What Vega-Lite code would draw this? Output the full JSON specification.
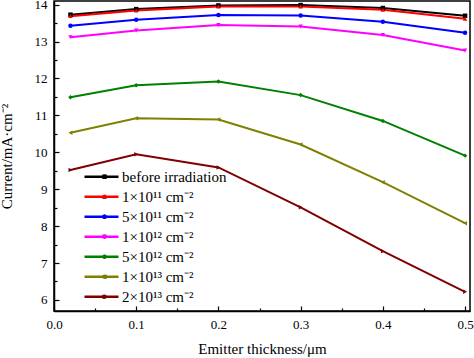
{
  "$schema": "https://vega.github.io/schema/vega-lite/v6.json",
  "width": 416,
  "height": 310,
  "autosize": "none",
  "padding": {"left": 54, "top": 1, "right": 4, "bottom": 47},
  "background": "white",
  "config": {
    "font": "Liberation Serif",
    "view": {"stroke": "black", "strokeWidth": 1.5},
    "axis": {"grid": false, "domainColor": "black", "domainWidth": 1.5, "tickColor": "black", "tickWidth": 1.2, "labelColor": "black", "titleColor": "black", "labelFont": "Liberation Serif", "titleFont": "Liberation Serif", "labelFontSize": 13, "titleFontSize": 15, "titleFontWeight": "normal"},
    "legend": {"labelFont": "Liberation Serif", "labelFontSize": 15, "labelColor": "black"}
  },
  "data": {"values": [
    {"x": 0.02, "y": 13.73, "s": "before irradiation"},
    {"x": 0.1, "y": 13.88, "s": "before irradiation"},
    {"x": 0.2, "y": 13.98, "s": "before irradiation"},
    {"x": 0.3, "y": 13.99, "s": "before irradiation"},
    {"x": 0.4, "y": 13.91, "s": "before irradiation"},
    {"x": 0.5, "y": 13.7, "s": "before irradiation"},
    {"x": 0.02, "y": 13.69, "s": "1×10¹¹ cm⁻²"},
    {"x": 0.1, "y": 13.84, "s": "1×10¹¹ cm⁻²"},
    {"x": 0.2, "y": 13.95, "s": "1×10¹¹ cm⁻²"},
    {"x": 0.3, "y": 13.95, "s": "1×10¹¹ cm⁻²"},
    {"x": 0.4, "y": 13.86, "s": "1×10¹¹ cm⁻²"},
    {"x": 0.5, "y": 13.62, "s": "1×10¹¹ cm⁻²"},
    {"x": 0.02, "y": 13.43, "s": "5×10¹¹ cm⁻²"},
    {"x": 0.1, "y": 13.59, "s": "5×10¹¹ cm⁻²"},
    {"x": 0.2, "y": 13.72, "s": "5×10¹¹ cm⁻²"},
    {"x": 0.3, "y": 13.71, "s": "5×10¹¹ cm⁻²"},
    {"x": 0.4, "y": 13.54, "s": "5×10¹¹ cm⁻²"},
    {"x": 0.5, "y": 13.24, "s": "5×10¹¹ cm⁻²"},
    {"x": 0.02, "y": 13.12, "s": "1×10¹² cm⁻²"},
    {"x": 0.1, "y": 13.3, "s": "1×10¹² cm⁻²"},
    {"x": 0.2, "y": 13.45, "s": "1×10¹² cm⁻²"},
    {"x": 0.3, "y": 13.41, "s": "1×10¹² cm⁻²"},
    {"x": 0.4, "y": 13.18, "s": "1×10¹² cm⁻²"},
    {"x": 0.5, "y": 12.76, "s": "1×10¹² cm⁻²"},
    {"x": 0.02, "y": 11.49, "s": "5×10¹² cm⁻²"},
    {"x": 0.1, "y": 11.82, "s": "5×10¹² cm⁻²"},
    {"x": 0.2, "y": 11.92, "s": "5×10¹² cm⁻²"},
    {"x": 0.3, "y": 11.55, "s": "5×10¹² cm⁻²"},
    {"x": 0.4, "y": 10.85, "s": "5×10¹² cm⁻²"},
    {"x": 0.5, "y": 9.91, "s": "5×10¹² cm⁻²"},
    {"x": 0.02, "y": 10.53, "s": "1×10¹³ cm⁻²"},
    {"x": 0.1, "y": 10.92, "s": "1×10¹³ cm⁻²"},
    {"x": 0.2, "y": 10.89, "s": "1×10¹³ cm⁻²"},
    {"x": 0.3, "y": 10.21, "s": "1×10¹³ cm⁻²"},
    {"x": 0.4, "y": 9.19, "s": "1×10¹³ cm⁻²"},
    {"x": 0.5, "y": 8.08, "s": "1×10¹³ cm⁻²"},
    {"x": 0.02, "y": 9.52, "s": "2×10¹³ cm⁻²"},
    {"x": 0.1, "y": 9.95, "s": "2×10¹³ cm⁻²"},
    {"x": 0.2, "y": 9.59, "s": "2×10¹³ cm⁻²"},
    {"x": 0.3, "y": 8.51, "s": "2×10¹³ cm⁻²"},
    {"x": 0.4, "y": 7.32, "s": "2×10¹³ cm⁻²"},
    {"x": 0.5, "y": 6.22, "s": "2×10¹³ cm⁻²"}
  ]},
  "encoding": {
    "x": {"field": "x", "type": "quantitative", "scale": {"domain": [0, 0.506], "nice": false, "zero": false},
      "axis": {"title": "Emitter thickness/μm", "values": [0, 0.05, 0.1, 0.15, 0.2, 0.25, 0.3, 0.35, 0.4, 0.45, 0.5],
        "labelExpr": "round(datum.value*20)%2==0 ? format(datum.value,'.1f') : ''",
        "labelFont": "Liberation Serif", "titleFont": "Liberation Serif",
        "tickSize": {"expr": "round(datum.value*20)%2==0 ? -5 : -3"}, "labelPadding": 12, "titlePadding": 10, "labelFlush": false}},
    "y": {"field": "y", "type": "quantitative", "scale": {"domain": [5.7, 14.1], "nice": false, "zero": false},
      "axis": {"title": "Current/mA·cm⁻²", "values": [6, 6.5, 7, 7.5, 8, 8.5, 9, 9.5, 10, 10.5, 11, 11.5, 12, 12.5, 13, 13.5, 14],
        "labelExpr": "round(datum.value*2)%2==0 ? format(datum.value,'d') : ''",
        "labelFont": "Liberation Serif", "titleFont": "Liberation Serif",
        "tickSize": {"expr": "round(datum.value*2)%2==0 ? -5 : -3"}, "labelPadding": 12, "titlePadding": 20, "labelFlush": false}}
  },
  "layer": [
    {
      "mark": {"type": "line", "strokeWidth": 2},
      "encoding": {
        "color": {"field": "s", "type": "nominal",
          "sort": ["before irradiation", "1×10¹¹ cm⁻²", "5×10¹¹ cm⁻²", "1×10¹² cm⁻²", "5×10¹² cm⁻²", "1×10¹³ cm⁻²", "2×10¹³ cm⁻²"],
          "scale": {"domain": ["before irradiation", "1×10¹¹ cm⁻²", "5×10¹¹ cm⁻²", "1×10¹² cm⁻²", "5×10¹² cm⁻²", "1×10¹³ cm⁻²", "2×10¹³ cm⁻²"],
            "range": ["#000000", "#ff0000", "#0000ff", "#ff00ff", "#008000", "#808000", "#800000"]},
          "legend": {"title": null, "orient": "none", "legendX": 29, "legendY": 166, "symbolType": "stroke", "symbolSize": 1156, "symbolStrokeWidth": 2.5, "clipHeight": 19.6, "rowPadding": 0, "padding": 0, "labelOffset": 2, "labelFont": "Liberation Serif"}}
      }
    },
    {
      "mark": {"type": "point", "filled": true, "size": 20, "opacity": 1},
      "encoding": {
        "color": {"field": "s", "type": "nominal",
          "sort": ["before irradiation", "1×10¹¹ cm⁻²", "5×10¹¹ cm⁻²", "1×10¹² cm⁻²", "5×10¹² cm⁻²", "1×10¹³ cm⁻²", "2×10¹³ cm⁻²"],
          "scale": {"domain": ["before irradiation", "1×10¹¹ cm⁻²", "5×10¹¹ cm⁻²", "1×10¹² cm⁻²", "5×10¹² cm⁻²", "1×10¹³ cm⁻²", "2×10¹³ cm⁻²"],
            "range": ["#000000", "#ff0000", "#0000ff", "#ff00ff", "#008000", "#808000", "#800000"]},
          "legend": {"title": null, "orient": "none", "legendX": 43, "legendY": 166, "symbolSize": 20, "clipHeight": 19.6, "rowPadding": 0, "padding": 0, "labelExpr": "''"}},
        "shape": {"field": "s", "type": "nominal",
          "sort": ["before irradiation", "1×10¹¹ cm⁻²", "5×10¹¹ cm⁻²", "1×10¹² cm⁻²", "5×10¹² cm⁻²", "1×10¹³ cm⁻²", "2×10¹³ cm⁻²"],
          "scale": {"domain": ["before irradiation", "1×10¹¹ cm⁻²", "5×10¹¹ cm⁻²", "1×10¹² cm⁻²", "5×10¹² cm⁻²", "1×10¹³ cm⁻²", "2×10¹³ cm⁻²"],
            "range": ["square", "triangle-up", "circle", "triangle-down", "diamond", "triangle-left", "triangle-right"]},
          "legend": {"title": null, "orient": "none", "legendX": 43, "legendY": 166, "symbolSize": 20, "clipHeight": 19.6, "rowPadding": 0, "padding": 0, "labelExpr": "''"}}
      }
    }
  ],
  "resolve": {"legend": {"color": "independent"}}
}
